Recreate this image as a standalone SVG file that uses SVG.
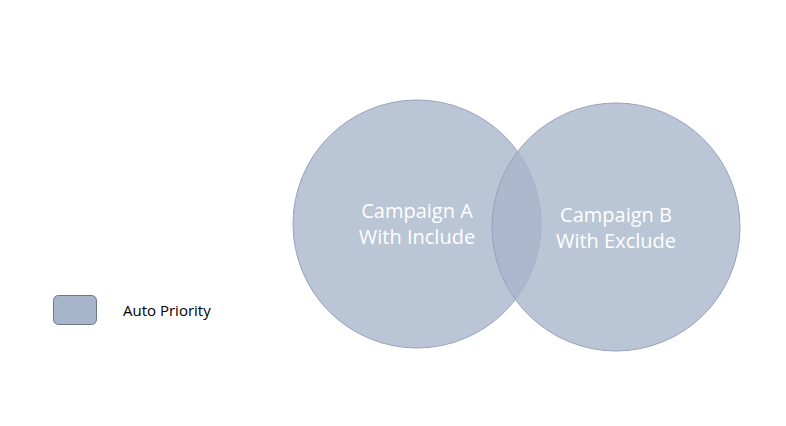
<svg xmlns="http://www.w3.org/2000/svg" width="786" height="426" viewBox="0 0 786 426">
<style>
.c{fill:#a7b5cb;fill-opacity:0.78;stroke:#98a2bd;stroke-width:1}
.t{font-family:"Open Sans","Noto Sans",sans-serif;font-size:20px;fill:#ffffff;text-anchor:middle}
.l{font-family:"Open Sans","Noto Sans",sans-serif;font-size:15px;fill:#000}
</style>
<rect width="786" height="426" fill="#fff"/>
<g id="legend">
<rect x="53.5" y="295.5" width="43" height="29" rx="5" fill="#a7b5cb" stroke="#6b778a"/>
<text class="l" x="123" y="316">Auto Priority</text>
</g>
<g id="campaignA">
<circle class="c" cx="417" cy="224" r="124"/>
<text class="t" x="417" y="218">Campaign A</text>
<text class="t" x="417" y="244">With Include</text>
</g>
<g id="campaignB">
<circle class="c" cx="616" cy="227" r="124"/>
<text class="t" x="616" y="222">Campaign B</text>
<text class="t" x="616" y="248">With Exclude</text>
</g>
<g id="connectors"/>
</svg>
